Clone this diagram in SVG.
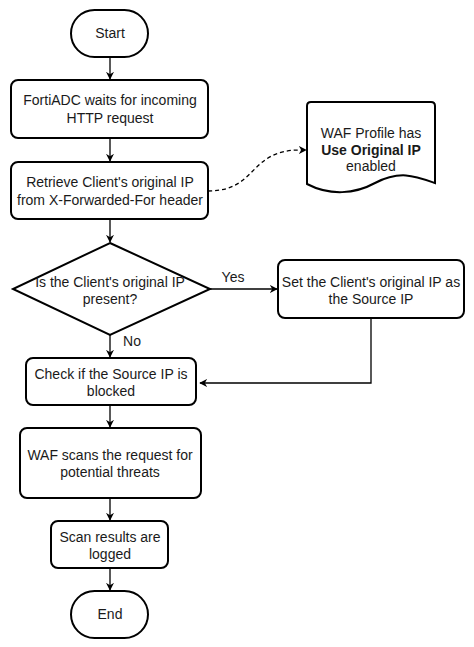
<svg xmlns="http://www.w3.org/2000/svg" width="474" height="647" viewBox="0 0 474 647">
<defs>
<marker id="arr" viewBox="0 0 10 10" refX="9" refY="5" markerWidth="8" markerHeight="8" markerUnits="userSpaceOnUse" orient="auto">
<path d="M0,0 L10,5 L0,10 L3,5 z" fill="#000"/>
</marker>
<style>
.s{fill:#fff;stroke:#000;stroke-width:2}
.t{font-family:"Liberation Sans",Arial,sans-serif;font-size:14px;fill:#1a1a1a;text-anchor:middle}
.b{font-weight:bold}
.c{fill:none;stroke:#000;stroke-width:1.3}
.d{stroke-dasharray:4,3}
</style>
</defs>
<rect width="474" height="647" fill="#fff"/>
<g id="connectors">
<path class="c" d="M110,57 V79" marker-end="url(#arr)"/>
<path class="c" d="M110,138 V161" marker-end="url(#arr)"/>
<path class="c" d="M110,219 V242" marker-end="url(#arr)"/>
<path class="c d" d="M208,191 C258,191 248,150 300,150 L306,150" marker-end="url(#arr)"/>
<path class="c" d="M210,289 H277" marker-end="url(#arr)"/>
<path class="c" d="M371,318 V383 H200" marker-end="url(#arr)"/>
<path class="c" d="M110,335 V357" marker-end="url(#arr)"/>
<path class="c" d="M110,405 V427" marker-end="url(#arr)"/>
<path class="c" d="M110,498 V520" marker-end="url(#arr)"/>
<path class="c" d="M110,568 V590" marker-end="url(#arr)"/>
<text class="t" x="233" y="282">Yes</text>
<text class="t" x="132" y="346">No</text>
</g>
<g id="start">
<rect class="s" x="71" y="10" width="77" height="47" rx="23.5"/>
<text class="t" x="110" y="38">Start</text>
</g>
<g id="wait">
<rect class="s" x="11" y="80" width="197" height="58" rx="7"/>
<text class="t" x="110" y="105">FortiADC waits for incoming</text>
<text class="t" x="110" y="123">HTTP request</text>
</g>
<g id="retrieve">
<rect class="s" x="11" y="162" width="197" height="57" rx="7"/>
<text class="t" x="110" y="187">Retrieve Client's original IP</text>
<text class="t" x="110" y="205">from X-Forwarded-For header</text>
</g>
<g id="profile">
<path class="s" d="M307,106 Q307,102 311,102 H431 Q435,102 435,106 V183 C415,176 400,170 375,183 C355,194 330,196 307,184 Z"/>
<text class="t" x="371" y="138">WAF Profile has</text>
<text class="t b" x="371" y="155">Use Original IP</text>
<text class="t" x="371" y="171">enabled</text>
</g>
<g id="decision">
<path class="s" d="M110,243 L210,289 L110,335 L13,289 Z"/>
<text class="t" x="110" y="287">Is the Client's original IP</text>
<text class="t" x="110" y="304">present?</text>
</g>
<g id="setsource">
<rect class="s" x="278" y="260" width="186" height="58" rx="7"/>
<text class="t" x="371" y="287">Set the Client's original IP as</text>
<text class="t" x="371" y="304">the Source IP</text>
</g>
<g id="check">
<rect class="s" x="26" y="358" width="170" height="47" rx="7"/>
<text class="t" x="111" y="379">Check if the Source IP is</text>
<text class="t" x="111" y="396">blocked</text>
</g>
<g id="scan">
<rect class="s" x="20" y="428" width="181" height="70" rx="7"/>
<text class="t" x="110" y="460">WAF scans the request for</text>
<text class="t" x="110" y="477">potential threats</text>
</g>
<g id="logged">
<rect class="s" x="51" y="521" width="117" height="47" rx="7"/>
<text class="t" x="110" y="542">Scan results are</text>
<text class="t" x="110" y="559">logged</text>
</g>
<g id="end">
<rect class="s" x="71" y="591" width="77" height="47" rx="23.5"/>
<text class="t" x="110" y="619">End</text>
</g>
</svg>
